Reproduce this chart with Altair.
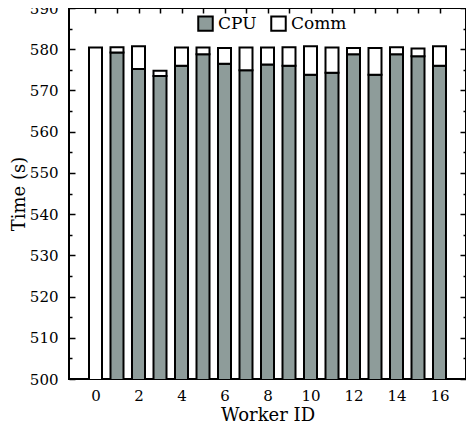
import pandas as pd
import altair as alt

workers = list(range(17))
cpu = [0, 579.2, 575.2, 573.5, 576.0, 578.8, 576.5, 574.9, 576.3, 576.0,
       573.8, 574.3, 578.8, 573.8, 578.8, 578.3, 576.0]
total = [580.4, 580.5, 580.7, 574.8, 580.4, 580.4, 580.3, 580.4, 580.4, 580.5,
         580.7, 580.4, 580.3, 580.3, 580.5, 580.2, 580.7]
comm = [round(t - c, 2) for t, c in zip(total, cpu)]

rows = []
for w, c, m in zip(workers, cpu, comm):
    rows.append({'worker': w, 'series': 'CPU', 'order': 0, 'time': c})
    rows.append({'worker': w, 'series': 'Comm', 'order': 1, 'time': m})
df = pd.DataFrame(rows)

FONT = 'DejaVu Serif'
x_scale = alt.Scale(domain=[-1, 17], nice=False, zero=False)
y_scale = alt.Scale(domain=[500, 590], nice=False, zero=False)

bars = alt.Chart(df).mark_bar(size=13, stroke='black', strokeWidth=2, clip=True).encode(
    x=alt.X('worker:Q', scale=x_scale, title='Worker ID',
            axis=alt.Axis(values=workers, labelExpr="datum.value % 2 === 0 ? datum.label : ''",
                          tickSize=alt.ExprRef(expr='-4'), labelPadding=13, domain=False,
                          titleY=41, titleBaseline='alphabetic', titleFontSize=18)),
    y=alt.Y('time:Q', scale=y_scale, stack='zero', title='Time (s)',
            axis=alt.Axis(values=list(range(500, 591, 5)),
                          labelExpr="datum.value % 10 === 0 ? datum.label : ''",
                          tickSize=alt.ExprRef(expr='datum.value % 10 === 0 ? -6 : -3'),
                          labelPadding=17, domain=False, titlePadding=1, titleFontSize=18)),
    color=alt.Color('series:N', scale=alt.Scale(domain=['CPU', 'Comm'], range=['#8e9c9a', 'white']),
                    legend=alt.Legend(title=None, orient='none', direction='horizontal',
                                      legendX=128, legendY=7, symbolType='square', symbolSize=210,
                                      symbolStrokeColor='black', symbolStrokeWidth=2,
                                      labelFontSize=17, labelFont=FONT, columnPadding=10,
                                      symbolOpacity=1)),
    order=alt.Order('order:Q'),
)

mirror = alt.Chart(df).mark_bar(opacity=0, clip=True).encode(
    x=alt.X('worker:Q', scale=x_scale,
            axis=alt.Axis(orient='top', values=workers, labels=False, title=None,
                          tickSize=alt.ExprRef(expr='-5'), domain=False)),
    y=alt.Y('time:Q', scale=y_scale, stack='zero',
            axis=alt.Axis(orient='right', values=list(range(500, 591, 5)), labels=False, title=None,
                          tickSize=alt.ExprRef(expr='datum.value % 10 === 0 ? -6 : -3'),
                          domain=False)),
    detail='series:N',
    order=alt.Order('order:Q'),
)

chart = alt.layer(bars, mirror).resolve_axis(
    x='independent', y='independent'
).properties(
    width=397, height=371,
    autosize=alt.AutoSizeParams(type='none'),
    padding={'left': 61, 'top': 0, 'right': 0, 'bottom': 44},
).configure_view(
    stroke='black', strokeWidth=2
).configure_axis(
    labelFont=FONT, titleFont=FONT, labelFontSize=15, titleFontSize=19,
    titleFontWeight='normal', labelColor='black', titleColor='black',
    tickColor='black', tickWidth=1.5, grid=False
)

chart.save("out.html", embed_options={"renderer": "svg", "actions": False})
